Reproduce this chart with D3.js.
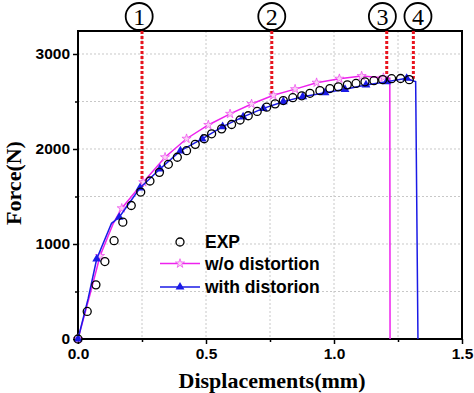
<!DOCTYPE html>
<html>
<head>
<meta charset="utf-8">
<script src="https://cdn.jsdelivr.net/npm/d3@7"></script>
<style>
  body { margin: 0; background: #fff; }
  svg { display: block; }
</style>
</head>
<body>
<svg class="chart" width="474" height="393"></svg>
<script>
// experimental points (displacement mm, force N)
const expX = [0, 0.036, 0.070, 0.105, 0.141, 0.175, 0.208, 0.245, 0.281, 0.318, 0.353, 0.388, 0.424, 0.458, 0.493,
  0.522, 0.561, 0.600, 0.633, 0.665, 0.700, 0.737, 0.770, 0.802, 0.839, 0.874, 0.906, 0.945, 0.984, 1.017,
  1.052, 1.086, 1.121, 1.156, 1.190, 1.225, 1.260, 1.294];
const expF = [0, 290, 570, 815, 1035, 1230, 1405, 1547, 1663, 1754, 1839, 1913, 1982, 2049, 2108,
  2160, 2212, 2258, 2305, 2350, 2395, 2440, 2475, 2510, 2540, 2560, 2586, 2614, 2636, 2654,
  2675, 2690, 2707, 2719, 2730, 2740, 2742, 2730];

// w/o distortion (magenta, stars)
const woX = [0, 0.045, 0.086, 0.138, 0.171, 0.255, 0.340, 0.424, 0.509, 0.594, 0.678, 0.763, 0.848, 0.932, 1.021, 1.108, 1.193, 1.218, 1.219];
const woF = [0, 450, 874, 1218, 1376, 1650, 1913, 2108, 2253, 2370, 2474, 2565, 2630, 2698, 2740, 2768, 2751, 2745, 0];
const woStar = [0, 2, 4, 5, 6, 7, 8, 9, 10, 11, 12, 13, 14, 15, 16];

// with distortion (blue, triangles)
const wdX = [0, 0.040, 0.073, 0.131, 0.161, 0.242, 0.320, 0.400, 0.485, 0.565, 0.645, 0.724, 0.802, 0.878, 0.965, 1.043, 1.125, 1.206, 1.284, 1.310, 1.319, 1.328];
const wdF = [0, 430, 842, 1218, 1281, 1590, 1790, 1980, 2107, 2235, 2338, 2428, 2498, 2551, 2593, 2628, 2674, 2709, 2744, 2716, 2709, 0];
const wdTri = [0, 2, 4, 5, 6, 7, 8, 9, 10, 11, 12, 13, 14, 15, 16, 17, 18];

// failure stages
const stageX = [0.25, 0.757, 1.206, 1.31];
const stageF = [1600, 2560, 2745, 2740];
const stageLabel = ["1", "2", "3", "4"];
const stageLabelX = [0.239, 0.757, 1.189, 1.328];

const xMajor = [0, 0.5, 1.0, 1.5];
const xMinor = [0.25, 0.75, 1.25];
const yMajor = [0, 1000, 2000, 3000];
const yMinor = [500, 1500, 2500];

const legendItems = ["EXP", "w/o distortion", "with distorion"];

const svg = d3.select("svg.chart");
const plotLeft = 78, plotRight = 462, plotTop = 31, plotBottom = 339;

const x = d3.scaleLinear().domain([0, 1.5]).range([plotLeft, plotRight]);
const y = d3.scaleLinear().domain([0, 3242]).range([plotBottom, plotTop]);

// grid
const grid = svg.append("g").attr("stroke", "#c8c8c8").attr("stroke-width", 1).attr("stroke-dasharray", "2,2");
xMajor.concat(xMinor).filter(d => d > 0 && d < 1.5).forEach(d => {
  grid.append("line").attr("x1", x(d)).attr("x2", x(d)).attr("y1", plotTop).attr("y2", plotBottom);
});
yMajor.concat(yMinor).filter(d => d > 0).forEach(d => {
  grid.append("line").attr("x1", plotLeft).attr("x2", plotRight).attr("y1", y(d)).attr("y2", y(d));
});

// axes
const xAxis = svg.append("g").attr("transform", `translate(0,${plotBottom})`)
  .call(d3.axisBottom(x).tickValues(xMajor).tickFormat(d3.format(".1f")).tickSize(5).tickPadding(4));
const xAxisMinor = svg.append("g").attr("transform", `translate(0,${plotBottom})`)
  .call(d3.axisBottom(x).tickValues(xMinor).tickFormat("").tickSize(3));
const yAxis = svg.append("g").attr("transform", `translate(${plotLeft},0)`)
  .call(d3.axisLeft(y).tickValues(yMajor).tickFormat(d3.format("d")).tickSize(5).tickPadding(3));
const yAxisMinor = svg.append("g").attr("transform", `translate(${plotLeft},0)`)
  .call(d3.axisLeft(y).tickValues(yMinor).tickFormat("").tickSize(3));

[xAxis, xAxisMinor, yAxis, yAxisMinor].forEach(g => {
  g.select(".domain").remove();
  g.selectAll("line").attr("stroke", "#000").attr("stroke-width", 1.5);
  g.selectAll("text").attr("fill", "#000")
    .style("font-family", "'Liberation Sans', Arial, sans-serif")
    .style("font-weight", "bold").style("font-size", "15.5px");
});

// frame
svg.append("rect").attr("x", plotLeft).attr("y", plotTop).attr("width", plotRight - plotLeft).attr("height", plotBottom - plotTop)
  .attr("fill", "none").attr("stroke", "#000").attr("stroke-width", 2);

// axis titles
svg.append("text").attr("x", 272).attr("y", 388).attr("text-anchor", "middle")
  .style("font-family", "'Liberation Serif', 'Times New Roman', serif").style("font-weight", "bold").style("font-size", "22px")
  .text("Displacements(mm)");
svg.append("text").attr("transform", `translate(21,183) rotate(-90)`).attr("text-anchor", "middle")
  .style("font-family", "'Liberation Serif', 'Times New Roman', serif").style("font-weight", "bold").style("font-size", "22px")
  .text("Force(N)");

// stage markers
stageX.forEach((d, i) => {
  svg.append("line").attr("x1", x(d)).attr("x2", x(d)).attr("y1", plotTop).attr("y2", y(stageF[i]))
    .attr("stroke", "#e8141e").attr("stroke-width", 3).attr("stroke-dasharray", "3,2");
  const cx = x(stageLabelX[i]);
  svg.append("circle").attr("cx", cx).attr("cy", 16.5).attr("r", 13.5)
    .attr("fill", "none").attr("stroke", "#000").attr("stroke-width", 1.8);
  svg.append("text").attr("x", cx).attr("y", 25).attr("text-anchor", "middle")
    .style("font-family", "'Liberation Serif', 'Times New Roman', serif").style("font-size", "24px")
    .text(stageLabel[i]);
});

const line = d3.line().x(d => x(d[0])).y(d => y(d[1]));
const woData = woX.map((d, i) => [d, woF[i]]);
const wdData = wdX.map((d, i) => [d, wdF[i]]);
const expData = expX.map((d, i) => [d, expF[i]]);

const star = d3.symbol().type(d3.symbolStar).size(26);
const tri = d3.symbol().type(d3.symbolTriangle).size(34);

// magenta
svg.append("path").datum(woData).attr("d", line).attr("fill", "none").attr("stroke", "#ee22ee").attr("stroke-width", 1.5);
svg.append("g").selectAll("path").data(woStar.map(i => woData[i])).join("path")
  .attr("transform", d => `translate(${x(d[0])},${y(d[1])})`).attr("d", star)
  .attr("fill", "#f9d4f4").attr("stroke", "#ee44ee").attr("stroke-width", 0.7);

// blue
svg.append("path").datum(wdData).attr("d", line).attr("fill", "none").attr("stroke", "#1a1ae6").attr("stroke-width", 1.5);
svg.append("g").selectAll("path").data(wdTri.map(i => wdData[i])).join("path")
  .attr("transform", d => `translate(${x(d[0])},${y(d[1])})`).attr("d", tri)
  .attr("fill", "#1a1ae6");

// exp circles
svg.append("g").selectAll("circle").data(expData).join("circle")
  .attr("cx", d => x(d[0])).attr("cy", d => y(d[1])).attr("r", 4)
  .attr("fill", "none").attr("stroke", "#000").attr("stroke-width", 1.3);

// legend
const legY = [242, 263.5, 287];
const lg = svg.append("g");
legendItems.forEach((t, i) => {
  const g = lg.append("g").attr("transform", `translate(0,${legY[i]})`);
  if (i === 0) {
    g.append("circle").attr("cx", 180).attr("cy", 0).attr("r", 4).attr("fill", "none").attr("stroke", "#000").attr("stroke-width", 1.3);
  } else {
    const c = i === 1 ? "#ee22ee" : "#1a1ae6";
    g.append("line").attr("x1", 160).attr("x2", 200).attr("stroke", c).attr("stroke-width", 1.6);
    g.append("path").attr("transform", "translate(180,0)").attr("d", i === 1 ? star : tri)
      .attr("fill", i === 1 ? "#f9d4f4" : c).attr("stroke", i === 1 ? "#ee44ee" : "none").attr("stroke-width", 0.7);
  }
  g.append("text").attr("x", 205).attr("y", 6).text(t)
    .style("font-family", "'Liberation Sans', Arial, sans-serif").style("font-weight", "bold").style("font-size", "17.5px");
});
</script>
</body>
</html>
